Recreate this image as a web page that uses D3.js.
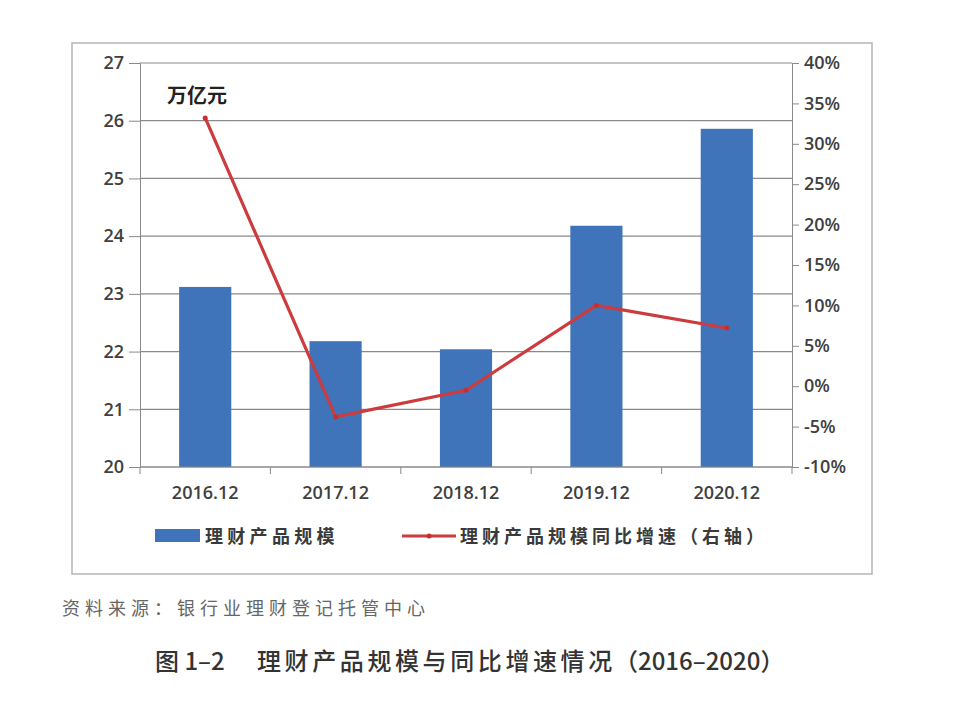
<!DOCTYPE html>
<html>
<head>
<meta charset="utf-8">
<script src="https://cdn.jsdelivr.net/npm/d3@7"></script>
<style>
  body { margin: 0; background: #fff; }
  text { font-family: "Noto Sans CJK SC", "Noto Sans", sans-serif; }
  .axis path, .axis line { stroke: #8a8a8a; }
  .axis text { font-family: "Open Sans", "Noto Sans", sans-serif; font-size: 18px; fill: #404040; font-weight: 600; }
</style>
</head>
<body>
<div id="chart"></div>
<script>
var categories = ["2016.12", "2017.12", "2018.12", "2019.12", "2020.12"];
var scale = [23.12, 22.18, 22.04, 24.18, 25.86];       // 万亿元
var growth = [33.2, -3.8, -0.5, 10.0, 7.2];            // %
var leftTicks = [20, 21, 22, 23, 24, 25, 26, 27];
var rightTicks = [-10, -5, 0, 5, 10, 15, 20, 25, 30, 35, 40];

function init() {
  var w = 960, h = 706;
  var padLeft = 140, padRight = 792, padTop = 63, padBottom = 467;

  var svg = d3.select("#chart").append("svg")
    .attr("width", w)
    .attr("height", h);

  // outer frame
  svg.append("rect")
    .attr("x", 72).attr("y", 43)
    .attr("width", 800).attr("height", 531)
    .attr("fill", "none")
    .attr("stroke", "#b5b5b5")
    .attr("stroke-width", 1.5);

  var xScale = d3.scaleBand().domain(categories).range([padLeft, padRight]).paddingInner(0).paddingOuter(0);
  var yLeft = d3.scaleLinear().domain([20, 27]).range([padBottom, padTop]);
  var yRight = d3.scaleLinear().domain([-10, 40]).range([padBottom, padTop]);

  // gridlines
  svg.selectAll("line.grid")
    .data(leftTicks)
    .enter()
    .append("line")
    .attr("class", "grid")
    .attr("x1", padLeft).attr("x2", padRight)
    .attr("y1", function(d) { return yLeft(d); })
    .attr("y2", function(d) { return yLeft(d); })
    .attr("stroke", "#8a8a8a")
    .attr("stroke-width", 1.2);

  // bars
  var barW = xScale.bandwidth() * 0.4;
  svg.selectAll("rect.bar")
    .data(scale)
    .enter()
    .append("rect")
    .attr("class", "bar")
    .attr("x", function(d, i) { return xScale(categories[i]) + (xScale.bandwidth() - barW) / 2; })
    .attr("y", function(d) { return yLeft(d); })
    .attr("width", barW)
    .attr("height", function(d) { return yLeft(20) - yLeft(d); })
    .attr("fill", "#3f74ba");

  // axes
  var yAxisL = d3.axisLeft(yLeft).tickValues(leftTicks).tickSize(11).tickPadding(5).tickFormat(d3.format("d"));
  svg.append("g")
    .attr("class", "axis")
    .attr("transform", "translate(" + padLeft + ",0)")
    .call(yAxisL);

  var yAxisR = d3.axisRight(yRight).tickValues(rightTicks).tickSize(7).tickPadding(5).tickFormat(function(d) { return d + "%"; });
  svg.append("g")
    .attr("class", "axis")
    .attr("transform", "translate(" + padRight + ",0)")
    .call(yAxisR);

  var xAxis = d3.axisBottom(xScale).tickSize(0).tickPadding(19);
  var gx = svg.append("g")
    .attr("class", "axis")
    .attr("transform", "translate(0," + padBottom + ")")
    .call(xAxis);
  gx.select(".domain").remove();
  gx.append("line")
    .attr("x1", padLeft).attr("x2", padRight)
    .attr("stroke", "#8a8a8a").attr("stroke-width", 1.2);
  // category separators
  gx.selectAll("line.sep")
    .data(categories.concat(["end"]))
    .enter()
    .append("line")
    .attr("class", "sep")
    .attr("x1", function(d, i) { return padLeft + i * xScale.step(); })
    .attr("x2", function(d, i) { return padLeft + i * xScale.step(); })
    .attr("y1", 0).attr("y2", 7)
    .attr("stroke", "#8a8a8a");

  // growth line
  var line = d3.line()
    .x(function(d, i) { return xScale(categories[i]) + xScale.bandwidth() / 2; })
    .y(function(d) { return yRight(d); });

  svg.append("path")
    .datum(growth)
    .attr("d", line)
    .attr("fill", "none")
    .attr("stroke", "#cc3b3d")
    .attr("stroke-width", 3.2)
    .attr("stroke-linejoin", "round");

  svg.selectAll("circle.pt")
    .data(growth)
    .enter()
    .append("circle")
    .attr("class", "pt")
    .attr("cx", function(d, i) { return xScale(categories[i]) + xScale.bandwidth() / 2; })
    .attr("cy", function(d) { return yRight(d); })
    .attr("r", 2.5)
    .attr("fill", "#c23033");

  // unit label
  svg.append("text")
    .attr("x", 167).attr("y", 103)
    .attr("font-size", 20)
    .attr("font-weight", "bold")
    .attr("fill", "#222")
    .text("万亿元");

  // legend
  var legendY = 536;
  svg.append("rect")
    .attr("x", 155).attr("y", legendY - 7)
    .attr("width", 45).attr("height", 13)
    .attr("fill", "#3f74ba");
  svg.append("text")
    .attr("x", 205).attr("y", legendY + 7)
    .attr("font-size", 18)
    .attr("font-weight", "600")
    .attr("letter-spacing", 4.3)
    .attr("fill", "#3a3a3a")
    .text("理财产品规模");

  svg.append("line")
    .attr("x1", 402).attr("x2", 456)
    .attr("y1", legendY).attr("y2", legendY)
    .attr("stroke", "#cc3b3d").attr("stroke-width", 3);
  svg.append("circle")
    .attr("cx", 429).attr("cy", legendY).attr("r", 2.5)
    .attr("fill", "#c23033");
  svg.append("text")
    .attr("x", 460).attr("y", legendY + 7)
    .attr("font-size", 18)
    .attr("font-weight", "600")
    .attr("letter-spacing", 4)
    .attr("fill", "#3a3a3a")
    .text("理财产品规模同比增速（右轴）");

  // source & caption
  svg.append("text")
    .attr("x", 62).attr("y", 615)
    .attr("font-size", 18)
    .attr("letter-spacing", 5)
    .attr("fill", "#666")
    .text("资料来源：银行业理财登记托管中心");

  var cap = svg.append("text")
    .attr("y", 670)
    .attr("font-size", 24)
    .attr("font-weight", "500")
    .attr("fill", "#333");
  cap.append("tspan").attr("x", 155).text("图 1–2");
  cap.append("tspan").attr("x", 257).attr("letter-spacing", 3.6).text("理财产品规模与同比增速情况");
  cap.append("tspan").attr("x", 614).text("（2016–2020）");
}

window.onload = init;
</script>
</body>
</html>
